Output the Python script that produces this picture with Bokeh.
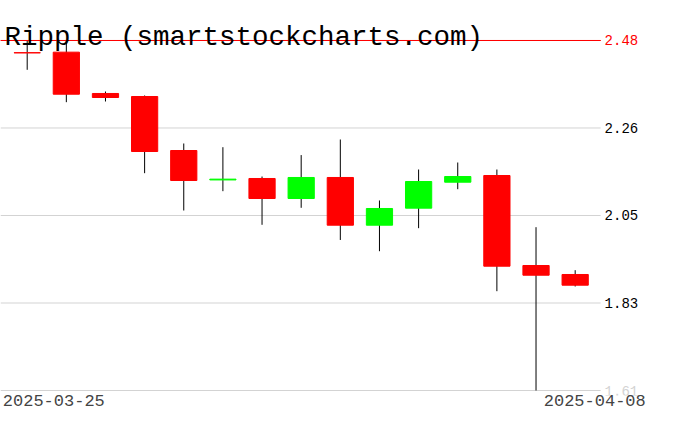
from bokeh.plotting import figure
from bokeh.models import Range1d, FixedTicker, Label
from bokeh.core.properties import value
from bokeh.embed import file_html
from bokeh.resources import INLINE

# datos
dates = ["2025-03-25", "2025-03-26", "2025-03-27", "2025-03-28", "2025-03-29",
         "2025-03-30", "2025-03-31", "2025-04-01", "2025-04-02", "2025-04-03",
         "2025-04-04", "2025-04-05", "2025-04-06", "2025-04-07", "2025-04-08"]
opens = [2.4505, 2.4518, 2.3492, 2.3417, 2.2076, 2.1345, 2.1381, 2.0884, 2.1406, 2.0221,
         2.0644, 2.1289, 2.1455, 1.9220, 1.8997]
highs = [2.4808, 2.4808, 2.3541, 2.3442, 2.2250, 2.2158, 2.1430, 2.1962, 2.2349, 2.0835,
         2.1604, 2.1778, 2.1604, 2.0172, 1.9104]
lows = [2.4080, 2.3276, 2.3293, 2.1513, 2.0586, 2.1066, 2.0231, 2.0653, 1.9854, 1.9575,
        2.0147, 2.1115, 1.8582, 1.6116, 1.8699]
closes = [2.4500, 2.3474, 2.3392, 2.2051, 2.1331, 2.1365, 2.0884, 2.1406, 2.0221, 2.0636,
          2.1306, 2.1430, 1.9203, 1.8979, 1.8731]
price_ticks = [1.6116, 1.8289, 2.0462, 2.2635, 2.4808]
price_labels = ["1.61", "1.83", "2.05", "2.26", "2.48"]
title_text = "Ripple (smartstockcharts.com)"

idx = list(range(len(dates)))
up = [c >= o for o, c in zip(opens, closes)]
x_left = -0.682
x_end = 14.65          # donde terminan las lineas de la rejilla

p = figure(width=660, height=415, x_range=Range1d(x_left, 16.18),
           y_range=Range1d(1.5992, 2.5801),
           output_backend="svg", toolbar_location=None,
           min_border_left=0, min_border_top=0, min_border_right=0, min_border_bottom=20)
p.outline_line_color = None
p.xgrid.visible = False
p.ygrid.visible = False
p.yaxis.visible = False

# rejilla horizontal (termina antes de las etiquetas)
grid_col = ["#ff0000" if t == price_ticks[-1] else "#d3d3d3" for t in price_ticks]
p.segment(x0=[x_left] * len(price_ticks), y0=price_ticks, x1=[x_end] * len(price_ticks),
          y1=price_ticks, line_color=grid_col, line_width=1)

# mechas
p.segment(x0=idx, y0=lows, x1=idx, y1=highs, line_color="black", line_width=1)

# cuerpos
body_col = ["#00ff00" if u else "#ff0000" for u in up]
p.vbar(x=idx, width=0.67, top=[max(o, c) for o, c in zip(opens, closes)],
       bottom=[min(o, c) for o, c in zip(opens, closes)],
       fill_color=body_col, line_color=body_col, line_width=1)

# linea roja del maximo encima de las mechas
p.segment(x0=[x_left], y0=[price_ticks[-1]], x1=[x_end], y1=[price_ticks[-1]],
          line_color="#ff0000", line_width=1)

# etiquetas de precio a la derecha
label_col = ["#d3d3d3", "black", "black", "black", "#ff0000"]
p.text(x=[x_end] * len(price_ticks), y=price_ticks, text=price_labels, x_offset=4,
       text_color=label_col, text_font=value("Liberation Mono"), text_font_size="14px",
       text_baseline="alphabetic", text_align="left")

# eje inferior: solo primera y ultima fecha
xa = p.xaxis[0]
first_pos = idx[0] + 0.68
last_pos = idx[-1] + 0.5
xa.ticker = FixedTicker(ticks=[first_pos, last_pos])
xa.major_label_overrides = {first_pos: dates[0], last_pos: dates[-1]}
xa.axis_line_color = None
xa.major_tick_line_color = None
xa.minor_tick_line_color = None
xa.major_label_standoff = -7
xa.major_label_text_font = "Liberation Mono"
xa.major_label_text_font_size = "17px"

# titulo
p.add_layout(Label(x=x_left, y=2.4882, x_offset=4, text=title_text, text_color="black",
                   text_font="Liberation Mono", text_font_size="27.5px",
                   text_baseline="alphabetic"))

open("out.html", "w").write(file_html(p, INLINE))
